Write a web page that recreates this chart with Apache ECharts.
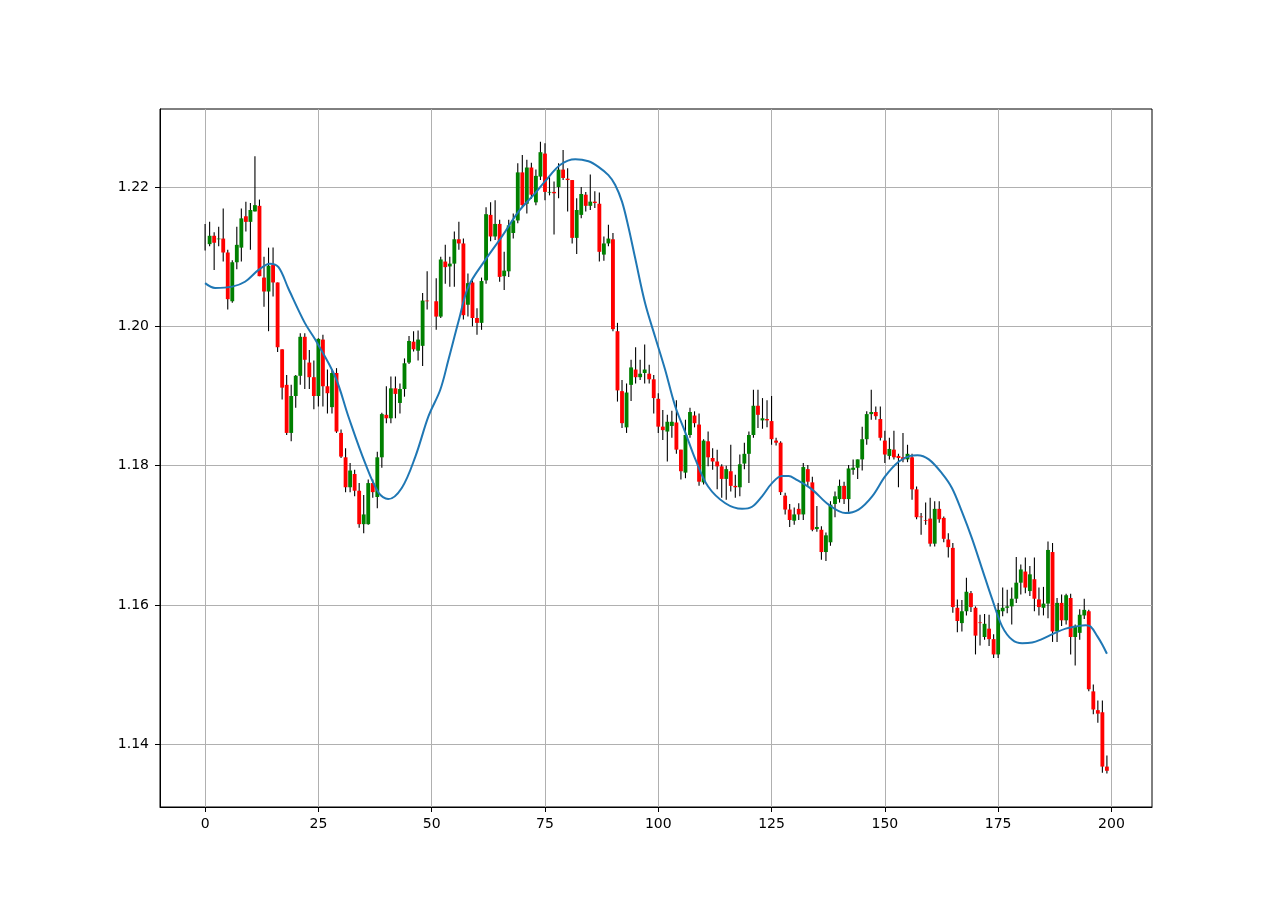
<!DOCTYPE html>
<html>
<head>
<meta charset="utf-8">
<title>Candles</title>
<script src="https://cdn.jsdelivr.net/npm/echarts@6/dist/echarts.min.js"></script>
<style>
  html, body { margin: 0; padding: 0; background: #fff; }
  #chart { width: 1280px; height: 907px; }
</style>
</head>
<body>
<div id="chart"></div>
<script>
// candle values, index 0..199 (null = no candle drawn)
const openPrices = [
  1.2125, 1.2118, 1.2130, 1.2125, 1.2126, 1.2106, 1.2036, 1.2092, 1.2113, 1.2158,
  1.2150, 1.2165, 1.2173, 1.2070, 1.2050, 1.2088, 1.2063, 1.1967, 1.1916, 1.1847,
  1.1900, 1.1929, 1.1985, 1.1948, 1.1927, 1.1900, 1.1981, 1.1914, 1.1884, 1.1933,
  1.1847, 1.1812, 1.1769, 1.1788, 1.1764, 1.1716, 1.1716, 1.1775, 1.1755, 1.1812,
  1.1873, 1.1868, 1.1911, 1.1890, 1.1910, 1.1948, 1.1978, 1.1965, 1.1972, 1.2037,
  null,   1.2036, 1.2014, 1.2093, 1.2086, 1.2090, 1.2125, 1.2119, 1.2031, 1.2063,
  1.2012, 1.2005, 1.2066, 1.2160, 1.2129, 1.2147, 1.2072, 1.2079, 1.2134, 1.2152,
  1.2221, 1.2176, 1.2228, 1.2178, 1.2215, 1.2248, 1.2192, 1.2193, 1.2200, 1.2225,
  1.2212, 1.2210, 1.2127, 1.2160, 1.2189, 1.2173, 1.2179, 1.2176, 1.2103, 1.2119,
  1.2125, 1.1993, 1.1907, 1.1855, 1.1916, 1.1938, 1.1927, 1.1933, 1.1932, 1.1924,
  1.1896, 1.1856, 1.1849, 1.1857, 1.1862, 1.1823, 1.1790, 1.1844, 1.1872, 1.1859,
  1.1776, 1.1835, 1.1811, 1.1806, 1.1799, 1.1781, 1.1792, 1.1771, 1.1769, 1.1803,
  1.1817, 1.1844, 1.1886, 1.1865, 1.1867, 1.1864, 1.1836, 1.1833, 1.1757, 1.1737,
  1.1721, 1.1738, 1.1730, 1.1795, 1.1776, 1.1709, 1.1708, 1.1676, 1.1690, 1.1745,
  1.1752, 1.1771, 1.1752, 1.1794, 1.1797, 1.1809, 1.1838, 1.1874, 1.1877, 1.1867,
  1.1836, 1.1814, 1.1823, 1.1814, 1.1812, 1.1809, 1.1812, 1.1766, 1.1727, 1.1722,
  1.1724, 1.1688, 1.1738, 1.1725, 1.1694, 1.1682, 1.1596, 1.1574, 1.1591, 1.1617,
  1.1596, 1.1575, 1.1554, 1.1566, 1.1551, 1.1529, 1.1591, 1.1596, 1.1598, 1.1609,
  1.1632, 1.1648, 1.1620, 1.1637, 1.1608, 1.1596, 1.1602, 1.1676, 1.1562, 1.1603,
  1.1578, 1.1610, 1.1554, 1.1560, 1.1585, 1.1591, 1.1476, 1.1449, 1.1446, 1.1368
];
const closePrices = [
  1.2125, 1.2130, 1.2120, 1.2126, 1.2106, 1.2039, 1.2092, 1.2117, 1.2155, 1.2150,
  1.2167, 1.2174, 1.2072, 1.2050, 1.2087, 1.2063, 1.1970, 1.1912, 1.1847, 1.1900,
  1.1929, 1.1985, 1.1952, 1.1927, 1.1900, 1.1982, 1.1914, 1.1904, 1.1933, 1.1849,
  1.1813, 1.1769, 1.1793, 1.1764, 1.1716, 1.1730, 1.1775, 1.1762, 1.1812, 1.1874,
  1.1868, 1.1911, 1.1903, 1.1910, 1.1947, 1.1979, 1.1967, 1.1981, 1.2037, 1.2036,
  null,   1.2014, 1.2096, 1.2085, 1.2090, 1.2125, 1.2119, 1.2016, 1.2062, 1.2012,
  1.2005, 1.2065, 1.2161, 1.2129, 1.2147, 1.2071, 1.2080, 1.2145, 1.2152, 1.2221,
  1.2174, 1.2228, 1.2189, 1.2216, 1.2250, 1.2193, 1.2193, 1.2191, 1.2225, 1.2213,
  1.2210, 1.2127, 1.2167, 1.2190, 1.2173, 1.2179, 1.2177, 1.2107, 1.2119, 1.2126,
  1.1996, 1.1908, 1.1861, 1.1905, 1.1941, 1.1927, 1.1932, 1.1938, 1.1924, 1.1897,
  1.1856, 1.1851, 1.1863, 1.1863, 1.1823, 1.1792, 1.1844, 1.1877, 1.1861, 1.1777,
  1.1836, 1.1812, 1.1806, 1.1799, 1.1781, 1.1795, 1.1771, 1.1769, 1.1802, 1.1817,
  1.1844, 1.1886, 1.1873, 1.1868, 1.1865, 1.1838, 1.1833, 1.1762, 1.1737, 1.1722,
  1.1730, 1.1730, 1.1798, 1.1777, 1.1708, 1.1712, 1.1676, 1.1700, 1.1744, 1.1756,
  1.1771, 1.1752, 1.1796, 1.1797, 1.1809, 1.1838, 1.1874, 1.1877, 1.1871, 1.1840,
  1.1816, 1.1824, 1.1812, 1.1811, 1.1809, 1.1817, 1.1766, 1.1726, 1.1726, 1.1721,
  1.1688, 1.1738, 1.1723, 1.1695, 1.1683, 1.1597, 1.1577, 1.1591, 1.1619, 1.1597,
  1.1556, 1.1574, 1.1573, 1.1551, 1.1529, 1.1593, 1.1596, 1.1598, 1.1609, 1.1632,
  1.1651, 1.1625, 1.1644, 1.1609, 1.1597, 1.1602, 1.1679, 1.1562, 1.1603, 1.1578,
  1.1614, 1.1554, 1.1570, 1.1586, 1.1593, 1.1479, 1.1450, 1.1444, 1.1368, 1.1362
];
const highPrices = [
  1.2147, 1.2150, 1.2135, 1.2143, 1.2169, 1.2110, 1.2095, 1.2143, 1.2169, 1.2179,
  1.2177, 1.2244, 1.2182, 1.2100, 1.2113, 1.2113, 1.2063, 1.1967, 1.1930, 1.1916,
  1.1930, 1.1990, 1.1990, 1.1966, 1.1951, 1.1983, 1.1988, 1.1938, 1.1938, 1.1940,
  1.1852, 1.1825, 1.1804, 1.1794, 1.1775, 1.1758, 1.1780, 1.1780, 1.1820, 1.1876,
  1.1914, 1.1928, 1.1928, 1.1918, 1.1954, 1.1986, 1.1993, 1.1994, 1.2048, 1.2079,
  null,   1.2069, 1.2100, 1.2117, 1.2100, 1.2136, 1.2150, 1.2126, 1.2076, 1.2066,
  1.2026, 1.2070, 1.2171, 1.2178, 1.2181, 1.2153, 1.2107, 1.2153, 1.2162, 1.2234,
  1.2246, 1.2239, 1.2235, 1.2225, 1.2265, 1.2263, 1.2215, 1.2208, 1.2234, 1.2253,
  1.2227, 1.2210, 1.2184, 1.2200, 1.2193, 1.2218, 1.2194, 1.2192, 1.2129, 1.2146,
  1.2134, 1.2005, 1.1923, 1.1918, 1.1952, 1.1970, 1.1952, 1.1974, 1.1945, 1.1930,
  1.1904, 1.1880, 1.1873, 1.1879, 1.1894, 1.1823, 1.1866, 1.1883, 1.1878, 1.1875,
  1.1838, 1.1849, 1.1825, 1.1823, 1.1802, 1.1800, 1.1830, 1.1787, 1.1816, 1.1833,
  1.1849, 1.1909, 1.1909, 1.1897, 1.1894, 1.1900, 1.1840, 1.1835, 1.1761, 1.1745,
  1.1740, 1.1746, 1.1804, 1.1801, 1.1784, 1.1742, 1.1713, 1.1704, 1.1749, 1.1763,
  1.1780, 1.1777, 1.1801, 1.1809, 1.1809, 1.1856, 1.1878, 1.1909, 1.1885, 1.1885,
  1.1850, 1.1840, 1.1850, 1.1817, 1.1847, 1.1830, 1.1817, 1.1770, 1.1732, 1.1747,
  1.1754, 1.1749, 1.1749, 1.1727, 1.1703, 1.1689, 1.1608, 1.1607, 1.1639, 1.1620,
  1.1598, 1.1586, 1.1587, 1.1586, 1.1558, 1.1603, 1.1625, 1.1622, 1.1625, 1.1669,
  1.1658, 1.1668, 1.1656, 1.1668, 1.1625, 1.1626, 1.1691, 1.1689, 1.1610, 1.1615,
  1.1616, 1.1616, 1.1572, 1.1594, 1.1609, 1.1593, 1.1486, 1.1463, 1.1463, 1.1384
];
const lowPrices = [
  1.2109, 1.2115, 1.2081, 1.2115, 1.2093, 1.2024, 1.2034, 1.2082, 1.2093, 1.2136,
  1.2110, 1.2165, 1.2072, 1.2028, 1.1993, 1.2043, 1.1963, 1.1895, 1.1844, 1.1835,
  1.1883, 1.1916, 1.1910, 1.1910, 1.1881, 1.1885, 1.1885, 1.1875, 1.1875, 1.1847,
  1.1811, 1.1762, 1.1762, 1.1756, 1.1711, 1.1703, 1.1715, 1.1754, 1.1739, 1.1797,
  1.1861, 1.1861, 1.1868, 1.1875, 1.1899, 1.1946, 1.1964, 1.1951, 1.1943, 1.2024,
  null,   1.1995, 1.2012, 1.2061, 1.2057, 1.2057, 1.2110, 1.2010, 1.2014, 1.2000,
  1.1988, 1.1995, 1.2061, 1.2122, 1.2124, 1.2064, 1.2052, 1.2071, 1.2126, 1.2148,
  1.2170, 1.2162, 1.2183, 1.2174, 1.2210, 1.2181, 1.2188, 1.2132, 1.2184, 1.2210,
  1.2165, 1.2119, 1.2104, 1.2155, 1.2165, 1.2167, 1.2170, 1.2093, 1.2094, 1.2115,
  1.1993, 1.1892, 1.1854, 1.1847, 1.1893, 1.1918, 1.1923, 1.1918, 1.1918, 1.1875,
  1.1847, 1.1837, 1.1806, 1.1840, 1.1817, 1.1780, 1.1782, 1.1840, 1.1855, 1.1771,
  1.1773, 1.1799, 1.1794, 1.1766, 1.1754, 1.1751, 1.1763, 1.1754, 1.1756, 1.1795,
  1.1775, 1.1840, 1.1854, 1.1853, 1.1855, 1.1830, 1.1829, 1.1758, 1.1730, 1.1712,
  1.1715, 1.1722, 1.1722, 1.1770, 1.1706, 1.1705, 1.1665, 1.1663, 1.1685, 1.1726,
  1.1747, 1.1745, 1.1734, 1.1787, 1.1781, 1.1793, 1.1830, 1.1866, 1.1866, 1.1836,
  1.1804, 1.1809, 1.1809, 1.1769, 1.1805, 1.1805, 1.1751, 1.1723, 1.1701, 1.1715,
  1.1684, 1.1684, 1.1718, 1.1690, 1.1668, 1.1589, 1.1561, 1.1562, 1.1585, 1.1590,
  1.1529, 1.1542, 1.1550, 1.1541, 1.1524, 1.1524, 1.1584, 1.1588, 1.1572, 1.1603,
  1.1615, 1.1617, 1.1613, 1.1591, 1.1585, 1.1585, 1.1581, 1.1547, 1.1547, 1.1570,
  1.1572, 1.1529, 1.1513, 1.1550, 1.1580, 1.1476, 1.1443, 1.1431, 1.1359, 1.1358
];

const lineX = [0, 2.2, 6, 8.8, 11.8, 14.3, 16.2, 18.4, 22, 24.3, 28.7, 31.6, 35.3, 38.3,
  40.4, 43.4, 46.4, 49.3, 51.9, 53.7, 56, 58.1, 61.8, 65.5, 69.2, 72.8, 75, 78.4,
  81.7, 84.6, 86.8, 89, 90.5, 92, 93.4, 94.9, 97.1, 99.3, 101.5, 103.7, 106, 108.2,
  111, 114.8, 118.5, 120.7, 122.9, 125.1, 127.3, 128.8, 130.2, 133.9, 137.6, 141.3,
  144.2, 147.2, 150.1, 153.1, 155.6, 157.2, 159.7, 162.6, 164.8, 167, 169.2, 171.4,
  173.7, 175.9, 178.1, 180.3, 182.5, 184.3, 187.6, 189.9, 192.1, 194.3, 195.4, 196.9,
  198, 199];
const lineY = [1.2062, 1.2055, 1.2057, 1.2064, 1.2081, 1.2090, 1.2085, 1.2054, 1.2005,
  1.1981, 1.1928, 1.1871, 1.1804, 1.1761, 1.1752, 1.1768, 1.1813, 1.1871, 1.1909,
  1.1952, 1.2009, 1.2057, 1.2095, 1.2129, 1.2165, 1.2191, 1.2208, 1.2232, 1.2240,
  1.2237, 1.2229, 1.2217, 1.2203, 1.2179, 1.2143, 1.2098, 1.2033, 1.1985, 1.1938,
  1.1886, 1.1847, 1.1809, 1.1770, 1.1746, 1.1738, 1.1741, 1.1756, 1.1775, 1.1785,
  1.1785, 1.1781, 1.1766, 1.1744, 1.1732, 1.1737, 1.1756, 1.1785, 1.1806, 1.1814,
  1.1815, 1.1809, 1.1789, 1.1768, 1.1734, 1.1696, 1.1653, 1.1608, 1.1569, 1.1550,
  1.1545, 1.1546, 1.1550, 1.1560, 1.1566, 1.1569, 1.1571, 1.1569, 1.1555, 1.1543,
  1.1530];

const xTicks = [0, 25, 50, 75, 100, 125, 150, 175, 200];
const yTicks = [1.14, 1.16, 1.18, 1.20, 1.22];

const candleData = [];
openPrices.forEach((o, i) => {
    if (o === null) return;
    candleData.push([i, o, closePrices[i], lowPrices[i], highPrices[i]]);
});
const lineData = lineX.map((x, i) => [x, lineY[i]]);

function renderCandle(params, api) {
    const x = api.value(0);
    const o = api.value(1), c = api.value(2);
    const l = api.value(3), h = api.value(4);
    const top = api.coord([x, h]);
    const bot = api.coord([x, l]);
    const bodyTop = api.coord([x, Math.max(o, c)]);
    const bodyBot = api.coord([x, Math.min(o, c)]);
    const w = api.size([0.85, 0])[0];
    return {
        type: 'group',
        children: [
            {
                type: 'line',
                shape: { x1: top[0], y1: top[1], x2: bot[0], y2: bot[1] },
                style: { stroke: '#000', lineWidth: 1.1 },
            },
            {
                type: 'rect',
                shape: { x: bodyTop[0] - w / 2, y: bodyTop[1], width: w, height: bodyBot[1] - bodyTop[1] },
                style: { fill: c >= o ? 'green' : 'red' },
            },
        ],
    };
}

const chart = echarts.init(document.getElementById('chart'));
const font = { color: '#000', fontSize: 14, fontFamily: 'DejaVu Sans' };
const gridLine = { show: true, lineStyle: { color: '#b0b0b0', width: 1 } };
const spine = { show: true, onZero: false, lineStyle: { color: '#000', width: 1 } };

chart.setOption({
    backgroundColor: '#fff',
    animation: false,
    grid: {
        left: 160, top: 109, width: 992, height: 698,
        show: true, borderColor: '#000', borderWidth: 1, backgroundColor: 'transparent',
    },
    xAxis: {
        type: 'value',
        min: -9.95, max: 208.95,
        axisLine: spine,
        axisTick: { show: true, inside: false, length: 5, lineStyle: { color: '#000' }, customValues: xTicks },
        axisLabel: Object.assign({ margin: 10, customValues: xTicks }, font),
        splitLine: Object.assign({ customValues: xTicks }, gridLine),
    },
    yAxis: {
        type: 'value',
        min: 1.1310, max: 1.2312,
        axisLine: spine,
        axisTick: { show: true, inside: false, length: 5, lineStyle: { color: '#000' }, customValues: yTicks },
        axisLabel: Object.assign({ margin: 11, customValues: yTicks, formatter: v => v.toFixed(2) }, font),
        splitLine: Object.assign({ customValues: yTicks }, gridLine),
    },
    series: [
        {
            type: 'custom',
            renderItem: renderCandle,
            encode: { x: 0, y: [1, 2, 3, 4] },
            data: candleData,
            z: 2,
        },
        {
            type: 'line',
            data: lineData,
            smooth: 0.35,
            showSymbol: false,
            lineStyle: { color: '#1f77b4', width: 2 },
            z: 3,
        },
    ],
});
</script>
</body>
</html>
